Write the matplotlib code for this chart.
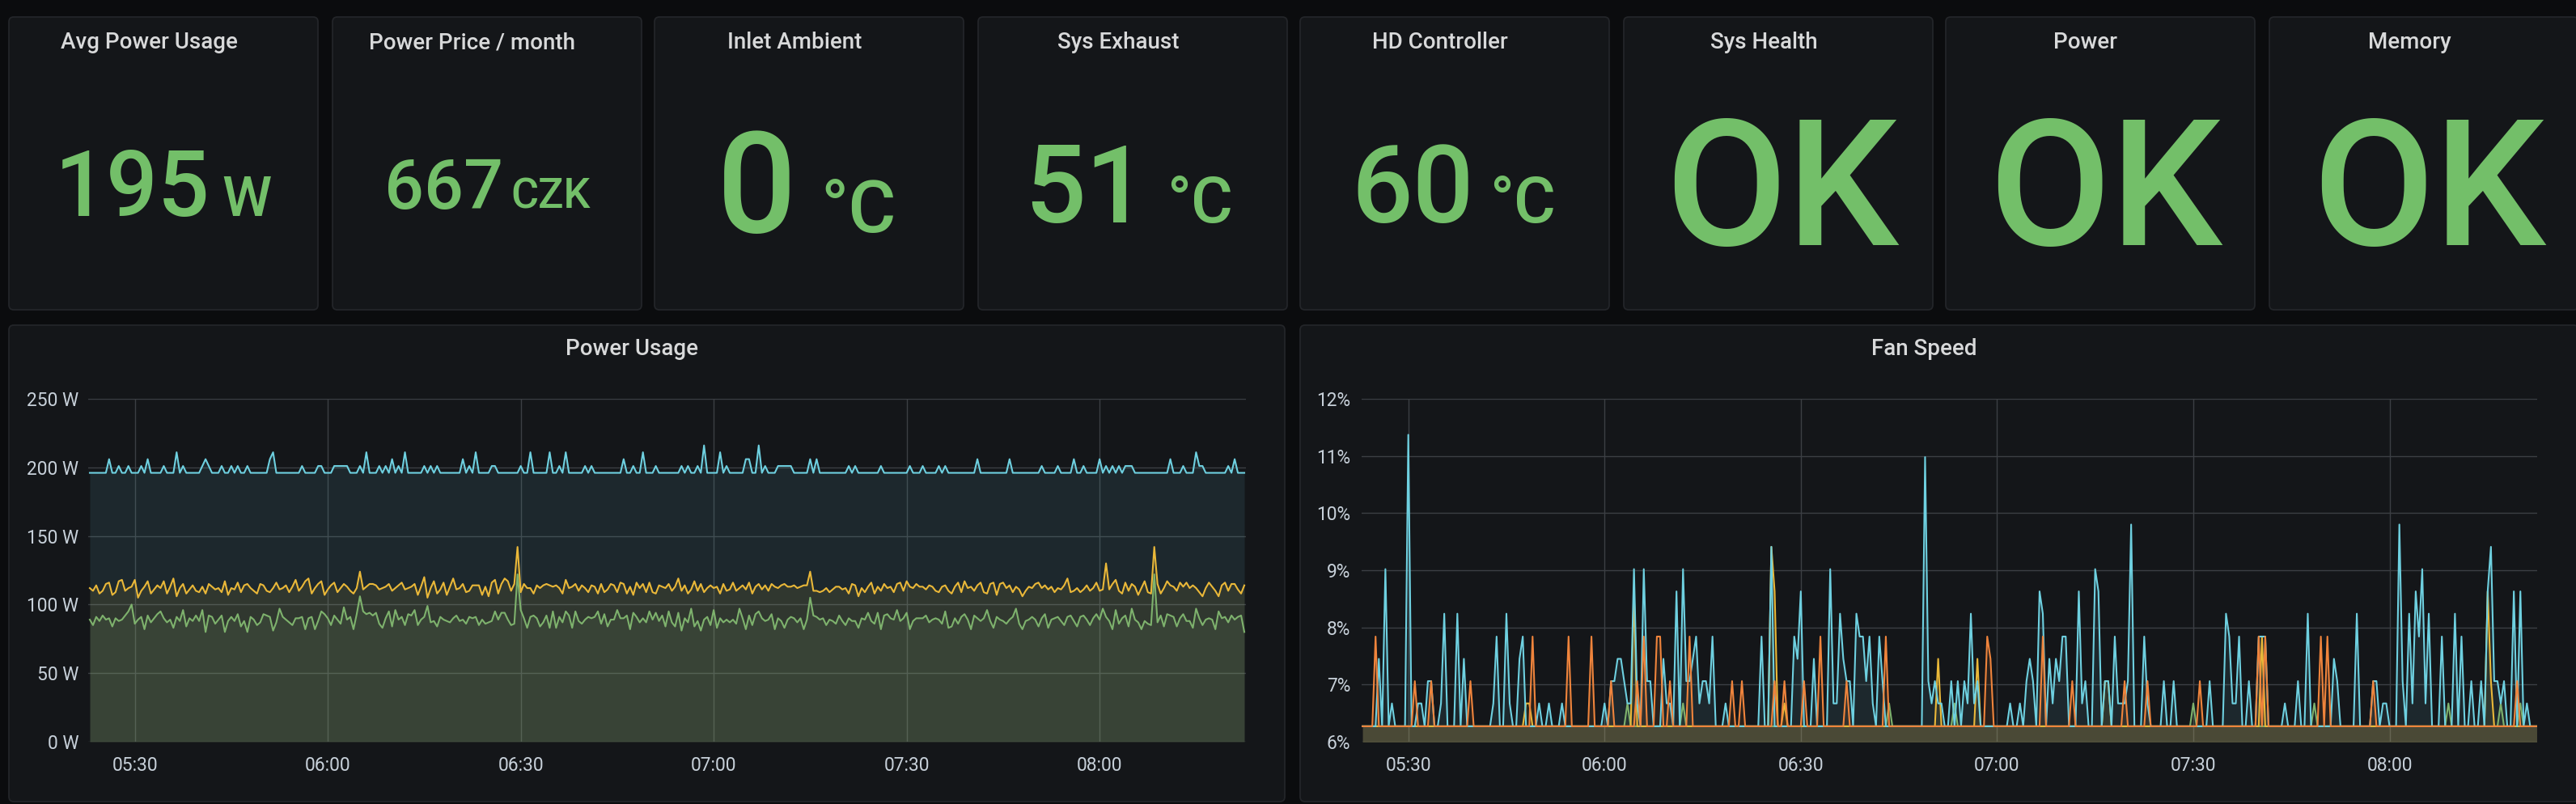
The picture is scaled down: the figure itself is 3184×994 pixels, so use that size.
import matplotlib
matplotlib.use("Agg")
import matplotlib.pyplot as plt
import matplotlib.dates as mdates
from matplotlib.patches import FancyBboxPatch
from matplotlib.ticker import FuncFormatter, MultipleLocator
import pandas as pd

plt.rcParams['font.family'] = ['Roboto', 'DejaVu Sans']

W, H = 3184, 994
BG = '#0b0c0e'
PANEL = '#141619'
EDGE = '#232529'
TITLE = '#d8d9da'
TICK = '#c7d0d9'
GRID = '#3c3f44'
VALUE = '#73bf69'
GREEN, YELLOW, CYAN, ORANGE = '#7eb26d', '#eab839', '#6ed0e0', '#ef843c'

# ---- stat panels ----
stat_titles = ['Avg Power Usage', 'Power Price / month', 'Inlet Ambient', 'Sys Exhaust',
               'HD Controller', 'Sys Health', 'Power', 'Memory']
stat_values = ['195', '667', '0', '51', '60', 'OK', 'OK', 'OK']
stat_units = ['W', 'CZK', '°C', '°C', '°C', '', '', '']

# ---- time series (one sample every 30 s) ----
times = pd.date_range('2021-05-01 05:23:00', periods=360, freq='30s')

power_psu1 = [
    89, 85, 91, 88, 92, 89, 90, 84, 90, 88, 89, 92, 95, 100, 86, 89, 91, 82, 92, 87,
    90, 93, 95, 90, 87, 89, 83, 91, 88, 96, 84, 90, 88, 92, 88, 96, 80, 92, 91, 86,
    89, 92, 80, 88, 91, 88, 93, 84, 88, 80, 91, 89, 85, 87, 93, 92, 91, 81, 87, 97,
    91, 89, 87, 85, 90, 90, 91, 82, 90, 91, 82, 88, 95, 93, 90, 85, 92, 89, 86, 98,
    89, 91, 82, 93, 106, 95, 93, 94, 92, 94, 86, 83, 90, 95, 84, 96, 89, 91, 85, 93,
    92, 96, 85, 89, 91, 99, 87, 88, 84, 91, 89, 88, 87, 90, 92, 88, 89, 86, 91, 90,
    91, 85, 89, 86, 87, 88, 95, 89, 94, 94, 89, 85, 86, 122, 96, 90, 83, 91, 92, 90,
    84, 87, 92, 83, 95, 83, 91, 87, 95, 92, 83, 95, 88, 86, 89, 91, 90, 91, 95, 86,
    93, 84, 89, 89, 96, 90, 90, 92, 82, 94, 91, 87, 90, 87, 95, 89, 94, 88, 92, 84,
    95, 87, 84, 94, 81, 90, 87, 97, 84, 88, 81, 89, 91, 85, 96, 83, 90, 87, 89, 87,
    89, 86, 97, 90, 82, 92, 85, 93, 95, 90, 88, 89, 93, 82, 90, 88, 83, 89, 91, 90,
    87, 90, 82, 89, 105, 92, 91, 89, 90, 85, 89, 88, 86, 92, 88, 85, 90, 88, 88, 83,
    90, 89, 94, 88, 86, 94, 82, 92, 93, 90, 89, 96, 88, 90, 94, 82, 88, 90, 90, 90,
    92, 87, 89, 90, 89, 86, 95, 83, 84, 90, 86, 91, 93, 89, 82, 92, 90, 88, 90, 96,
    88, 83, 91, 89, 88, 86, 89, 91, 97, 86, 82, 88, 89, 91, 89, 84, 90, 93, 83, 89,
    90, 91, 88, 85, 91, 92, 88, 84, 91, 92, 89, 85, 90, 93, 89, 97, 91, 88, 82, 96,
    86, 90, 92, 84, 97, 89, 87, 82, 88, 86, 85, 122, 87, 92, 84, 93, 92, 91, 84, 90,
    93, 88, 88, 83, 97, 90, 85, 89, 90, 89, 82, 95, 90, 91, 87, 92, 89, 91, 92, 80,
]
power_psu2 = [
    112, 110, 114, 108, 110, 115, 116, 107, 109, 117, 118, 110, 112, 113, 118, 105, 110, 113, 117, 108,
    111, 114, 112, 117, 108, 113, 119, 106, 112, 115, 108, 111, 114, 110, 109, 113, 108, 115, 113, 111,
    112, 109, 117, 107, 112, 111, 116, 109, 114, 115, 112, 110, 108, 115, 114, 110, 109, 112, 116, 111,
    112, 114, 109, 113, 118, 110, 113, 117, 119, 108, 112, 115, 117, 107, 111, 114, 116, 109, 112, 115,
    113, 110, 108, 112, 124, 111, 113, 115, 115, 114, 111, 112, 113, 115, 110, 112, 114, 116, 111, 112,
    113, 115, 107, 113, 120, 105, 112, 117, 108, 111, 116, 107, 113, 119, 111, 112, 115, 109, 110, 114,
    114, 114, 107, 113, 106, 116, 118, 108, 115, 119, 117, 110, 115, 142, 109, 115, 112, 112, 108, 114,
    112, 114, 115, 114, 113, 114, 112, 108, 118, 112, 113, 115, 110, 114, 112, 109, 114, 113, 108, 115,
    109, 111, 115, 114, 109, 116, 115, 108, 113, 107, 116, 112, 115, 109, 116, 109, 108, 114, 113, 112,
    115, 110, 113, 119, 110, 114, 108, 111, 117, 110, 115, 109, 112, 114, 112, 113, 108, 115, 110, 111,
    116, 110, 112, 114, 111, 116, 108, 113, 115, 111, 114, 110, 115, 113, 112, 114, 115, 113, 113, 114,
    112, 113, 114, 114, 124, 110, 110, 109, 110, 112, 109, 111, 113, 113, 111, 112, 108, 115, 114, 106,
    112, 109, 113, 116, 108, 113, 110, 115, 112, 113, 109, 115, 116, 110, 117, 113, 112, 115, 113, 113,
    111, 114, 113, 110, 109, 113, 114, 110, 108, 113, 116, 109, 117, 112, 113, 110, 114, 116, 109, 108,
    115, 116, 107, 115, 116, 112, 114, 109, 113, 111, 106, 110, 113, 112, 115, 116, 112, 114, 111, 113,
    109, 112, 111, 114, 119, 109, 110, 112, 109, 111, 114, 110, 112, 116, 110, 111, 130, 111, 115, 118,
    110, 108, 116, 110, 115, 113, 107, 112, 117, 109, 108, 142, 115, 108, 112, 117, 114, 113, 110, 116,
    113, 116, 112, 114, 112, 109, 106, 112, 116, 113, 110, 106, 114, 116, 110, 115, 115, 111, 108, 114,
]
power_total = [
    196, 196, 196, 196, 196, 196, 206, 196, 196, 201, 196, 196, 201, 196, 196, 196, 201, 196, 206, 196,
    196, 196, 196, 201, 196, 196, 196, 211, 196, 201, 196, 196, 196, 196, 196, 201, 206, 201, 196, 196,
    196, 201, 196, 196, 201, 196, 201, 196, 196, 201, 196, 196, 196, 196, 196, 196, 206, 211, 196, 196,
    196, 196, 196, 196, 196, 196, 201, 196, 196, 196, 196, 201, 201, 196, 196, 196, 201, 201, 201, 201,
    201, 196, 196, 196, 201, 196, 211, 196, 196, 196, 201, 196, 201, 196, 206, 196, 201, 196, 211, 196,
    196, 196, 196, 196, 201, 196, 201, 196, 201, 196, 196, 196, 196, 196, 196, 196, 206, 196, 201, 196,
    211, 196, 196, 196, 196, 201, 201, 196, 196, 196, 196, 196, 196, 196, 201, 196, 196, 211, 196, 196,
    196, 196, 196, 211, 196, 196, 201, 196, 211, 196, 196, 196, 196, 196, 201, 196, 201, 196, 196, 196,
    196, 196, 196, 196, 196, 196, 206, 196, 196, 201, 196, 196, 211, 196, 196, 196, 201, 196, 196, 196,
    196, 196, 196, 196, 201, 196, 201, 196, 196, 201, 196, 216, 196, 196, 196, 196, 211, 196, 201, 196,
    196, 196, 196, 196, 206, 206, 196, 196, 216, 196, 201, 196, 196, 196, 201, 201, 201, 201, 201, 196,
    196, 196, 196, 196, 206, 196, 206, 196, 196, 196, 196, 196, 196, 196, 196, 196, 201, 196, 201, 196,
    196, 196, 196, 196, 196, 196, 201, 196, 196, 196, 196, 196, 196, 196, 196, 201, 196, 196, 196, 201,
    196, 196, 196, 196, 201, 196, 201, 196, 196, 196, 196, 196, 196, 196, 196, 196, 206, 196, 196, 196,
    196, 196, 196, 196, 196, 196, 206, 196, 196, 196, 196, 196, 196, 196, 196, 196, 201, 196, 196, 196,
    196, 201, 196, 196, 196, 196, 206, 196, 196, 201, 196, 196, 196, 196, 206, 196, 201, 196, 201, 196,
    201, 196, 201, 201, 201, 196, 196, 196, 196, 196, 196, 196, 196, 196, 196, 196, 206, 196, 196, 196,
    201, 196, 196, 196, 211, 201, 201, 196, 196, 196, 196, 196, 196, 196, 201, 196, 206, 196, 196, 196,
]

fan_1 = [
    6.27, 6.27, 6.27, 6.27, 6.27, 6.27, 6.27, 6.27, 6.27, 6.27, 6.27, 6.27, 6.27, 6.27, 6.27, 6.27, 6.27, 6.27, 6.27, 6.27,
    6.27, 6.27, 6.27, 6.27, 6.27, 6.27, 6.27, 6.27, 6.27, 6.27, 6.27, 6.27, 6.27, 6.27, 6.27, 6.27, 6.27, 6.27, 6.27, 6.27,
    6.27, 6.27, 6.27, 6.27, 6.27, 6.27, 6.27, 6.27, 6.27, 6.27, 6.27, 6.27, 6.27, 6.27, 6.27, 6.27, 6.27, 6.27, 6.27, 6.27,
    6.27, 6.27, 6.27, 6.27, 6.27, 6.27, 6.27, 6.27, 6.27, 6.27, 6.27, 6.27, 6.27, 6.27, 6.27, 6.27, 6.27, 6.27, 6.27, 6.27,
    6.27, 6.67, 6.27, 6.27, 6.27, 6.27, 6.27, 6.27, 6.27, 6.27, 6.27, 6.27, 6.27, 6.27, 6.27, 6.27, 6.27, 6.27, 6.67, 6.27,
    6.27, 6.27, 6.27, 6.27, 6.27, 6.27, 6.27, 6.27, 6.27, 6.27, 6.27, 6.27, 6.27, 6.27, 6.27, 6.27, 6.27, 6.27, 6.27, 6.27,
    6.27, 6.27, 6.27, 6.27, 6.27, 6.27, 6.27, 6.27, 6.27, 6.27, 6.27, 6.27, 6.27, 6.27, 6.27, 6.27, 6.27, 6.27, 6.27, 6.27,
    6.27, 6.27, 6.27, 6.27, 6.27, 6.27, 6.27, 6.27, 6.27, 6.27, 6.27, 6.27, 6.27, 6.27, 6.27, 6.27, 6.27, 6.27, 6.27, 6.27,
    6.27, 6.67, 6.27, 6.27, 6.27, 6.27, 6.27, 6.27, 6.27, 6.27, 6.27, 6.27, 6.27, 6.27, 6.27, 6.27, 6.27, 6.27, 6.27, 6.27,
    6.27, 6.67, 6.27, 6.27, 6.27, 6.27, 6.27, 6.27, 6.27, 6.27, 6.27, 6.27, 6.27, 6.27, 6.27, 6.27, 6.27, 6.27, 6.27, 6.27,
    6.27, 6.27, 6.27, 6.27, 6.27, 6.27, 6.27, 6.27, 6.27, 6.27, 6.27, 6.27, 6.27, 6.27, 6.27, 6.27, 6.27, 6.27, 6.27, 6.27,
    6.27, 6.27, 6.27, 6.27, 6.27, 6.27, 6.27, 6.27, 6.27, 6.27, 6.27, 6.27, 6.27, 6.27, 6.27, 6.27, 6.27, 6.27, 6.27, 6.27,
    6.27, 6.27, 6.27, 6.27, 6.27, 6.27, 6.27, 6.27, 6.27, 6.27, 6.27, 6.27, 6.27, 6.27, 6.67, 6.27, 6.27, 6.27, 6.27, 6.27,
    6.27, 6.27, 6.27, 6.27, 6.27, 6.27, 6.27, 6.27, 6.27, 6.27, 6.27, 6.27, 6.27, 6.27, 6.27, 6.27, 6.27, 6.27, 6.27, 6.27,
    6.27, 6.27, 6.27, 6.27, 6.27, 6.27, 6.27, 6.27, 6.27, 6.27, 6.27, 6.67, 6.27, 6.27, 6.27, 6.27, 6.27, 6.27, 6.27, 6.27,
    6.27, 6.27, 6.27, 6.27, 6.27, 6.27, 6.27, 6.27, 6.27, 6.27, 6.27, 6.27, 6.27, 6.27, 6.27, 6.27, 6.27, 6.27, 6.27, 6.27,
    6.27, 6.27, 6.27, 6.27, 6.27, 6.27, 6.27, 6.27, 6.27, 6.27, 6.27, 6.27, 6.67, 6.27, 6.27, 6.27, 6.27, 6.27, 6.27, 6.27,
    6.27, 6.27, 6.27, 6.27, 6.27, 6.27, 6.27, 6.27, 6.67, 6.27, 6.27, 6.27, 6.27, 6.27, 6.67, 6.27, 6.27, 6.27, 6.27, 6.27,
]
fan_2 = [
    6.27, 6.27, 6.27, 6.27, 6.27, 6.27, 6.27, 6.27, 6.27, 6.27, 6.27, 6.27, 6.27, 6.27, 6.27, 6.27, 6.27, 6.27, 6.27, 6.27,
    6.27, 6.27, 6.27, 6.27, 6.27, 6.27, 6.27, 6.27, 6.27, 6.27, 6.27, 6.27, 6.27, 6.27, 6.27, 6.27, 6.27, 6.27, 6.27, 6.27,
    6.27, 6.27, 6.27, 6.27, 6.27, 6.27, 6.27, 6.27, 6.27, 6.27, 6.67, 6.67, 6.27, 6.27, 6.27, 6.27, 6.27, 6.27, 6.27, 6.27,
    6.27, 6.27, 6.27, 6.27, 6.27, 6.27, 6.27, 6.27, 6.27, 6.27, 6.27, 6.27, 6.27, 6.27, 6.27, 6.27, 6.27, 6.27, 6.27, 6.27,
    6.27, 6.27, 6.27, 8.63, 6.27, 6.27, 6.27, 6.27, 6.27, 6.27, 6.27, 6.27, 6.27, 6.27, 6.27, 6.27, 6.27, 6.27, 6.27, 6.27,
    6.27, 6.27, 6.27, 6.27, 6.27, 6.27, 6.27, 6.27, 6.27, 6.27, 6.27, 6.27, 6.27, 6.27, 6.27, 6.27, 6.27, 6.27, 6.27, 6.27,
    6.27, 6.27, 6.27, 6.27, 6.27, 9.41, 8.63, 6.27, 6.27, 6.67, 6.27, 6.27, 6.27, 6.27, 6.27, 6.27, 6.27, 6.27, 6.27, 6.27,
    6.27, 6.27, 6.27, 6.27, 6.27, 6.27, 6.27, 6.27, 6.27, 6.27, 6.27, 6.27, 6.27, 6.27, 6.27, 6.27, 6.27, 6.27, 6.27, 6.27,
    6.27, 6.27, 6.27, 6.27, 6.27, 6.27, 6.27, 6.27, 6.27, 6.27, 6.27, 6.27, 6.27, 6.27, 6.27, 6.27, 7.45, 6.27, 6.27, 6.27,
    6.27, 6.27, 6.27, 6.27, 6.27, 6.27, 6.27, 6.27, 7.45, 6.27, 6.27, 6.27, 6.27, 6.27, 6.27, 6.27, 6.27, 6.27, 6.27, 6.27,
    6.27, 6.27, 6.27, 6.27, 6.27, 6.27, 6.27, 6.27, 6.27, 6.27, 6.27, 6.27, 6.27, 6.27, 6.27, 6.27, 6.27, 6.27, 6.27, 6.27,
    6.27, 6.27, 6.27, 6.27, 6.27, 6.27, 6.27, 7.06, 7.06, 6.27, 6.27, 6.27, 6.27, 6.27, 6.27, 6.27, 6.27, 6.27, 6.27, 6.27,
    6.27, 6.27, 6.27, 6.27, 6.27, 6.27, 6.27, 6.27, 6.27, 6.27, 6.27, 6.27, 6.27, 6.27, 6.27, 6.27, 6.27, 6.27, 6.27, 6.27,
    6.27, 6.27, 6.27, 6.27, 6.27, 6.27, 6.27, 6.27, 6.27, 6.27, 6.27, 6.27, 6.27, 6.27, 6.27, 7.84, 6.27, 6.27, 6.27, 6.27,
    6.27, 6.27, 6.27, 6.27, 6.27, 6.27, 6.27, 6.27, 6.27, 6.27, 6.27, 6.27, 6.27, 6.27, 6.27, 6.27, 6.27, 6.27, 6.27, 6.27,
    6.27, 6.27, 6.27, 6.27, 6.27, 6.27, 6.27, 6.27, 6.27, 6.27, 6.27, 6.27, 6.27, 6.27, 6.27, 6.27, 6.27, 6.27, 6.27, 6.27,
    6.27, 6.27, 6.27, 6.27, 6.27, 6.27, 6.27, 6.27, 6.27, 6.27, 6.27, 6.27, 6.27, 6.27, 6.27, 6.27, 6.27, 6.27, 6.27, 6.27,
    6.27, 6.27, 6.27, 6.27, 8.63, 7.06, 6.27, 6.27, 6.27, 6.27, 6.27, 6.27, 6.27, 6.27, 6.27, 6.27, 6.27, 6.27, 6.27, 6.27,
]
fan_3 = [
    6.27, 6.27, 6.27, 6.27, 6.27, 7.45, 6.27, 9.02, 6.27, 6.67, 6.27, 6.27, 6.27, 6.27, 11.37, 6.27, 6.27, 6.67, 6.67, 6.27,
    7.06, 7.06, 6.27, 6.27, 6.67, 8.24, 6.27, 6.27, 6.27, 8.24, 6.27, 7.45, 6.27, 6.27, 6.27, 6.27, 6.27, 6.27, 6.27, 6.27,
    6.67, 7.84, 6.27, 6.27, 8.24, 6.67, 6.27, 6.27, 7.45, 7.84, 6.27, 6.27, 6.27, 6.27, 6.67, 6.27, 6.27, 6.67, 6.27, 6.27,
    6.27, 6.67, 6.27, 6.27, 6.27, 6.27, 6.27, 6.27, 6.27, 6.27, 6.27, 6.27, 6.27, 6.27, 6.67, 6.27, 7.06, 7.06, 7.45, 7.45,
    7.06, 6.67, 6.67, 9.02, 6.67, 6.27, 9.02, 7.06, 7.06, 6.27, 6.27, 6.27, 7.45, 6.67, 6.67, 6.27, 8.63, 6.27, 9.02, 7.06,
    7.06, 7.45, 7.84, 6.67, 7.06, 7.06, 6.67, 7.84, 6.27, 6.27, 6.27, 6.67, 6.27, 6.27, 6.27, 6.27, 6.27, 6.27, 6.27, 6.27,
    6.27, 6.27, 7.84, 6.27, 6.27, 9.41, 6.27, 6.27, 6.27, 6.27, 6.27, 6.27, 7.84, 7.45, 8.63, 6.27, 6.27, 6.27, 7.45, 6.27,
    6.27, 6.27, 6.27, 9.02, 6.67, 6.67, 8.24, 7.45, 7.06, 7.06, 6.27, 8.24, 7.84, 7.84, 7.06, 7.84, 6.67, 6.27, 7.84, 7.06,
    6.27, 6.27, 6.27, 6.27, 6.27, 6.27, 6.27, 6.27, 6.27, 6.27, 6.27, 6.27, 10.98, 7.06, 6.67, 7.06, 6.67, 6.67, 6.27, 6.27,
    7.06, 6.27, 7.06, 6.27, 7.06, 6.67, 8.24, 6.67, 7.06, 6.27, 6.27, 6.27, 6.27, 6.27, 6.27, 6.27, 6.27, 6.27, 6.67, 6.27,
    6.27, 6.67, 6.27, 7.06, 7.45, 7.06, 6.27, 8.63, 8.24, 6.27, 7.45, 6.67, 7.45, 7.06, 7.84, 7.84, 6.27, 6.27, 6.27, 8.63,
    6.67, 7.06, 6.27, 6.27, 9.02, 8.63, 6.27, 7.06, 7.06, 6.27, 7.84, 6.67, 6.67, 6.67, 7.06, 9.80, 6.27, 6.27, 6.27, 7.84,
    6.67, 6.27, 6.27, 6.27, 6.27, 7.06, 6.27, 6.27, 7.06, 6.27, 6.27, 6.27, 6.27, 6.27, 6.27, 6.27, 6.27, 6.27, 6.27, 7.06,
    6.27, 6.27, 6.27, 6.27, 8.24, 7.84, 6.67, 6.67, 7.84, 6.27, 6.27, 7.06, 6.27, 6.27, 7.84, 7.84, 7.84, 6.27, 6.27, 6.27,
    6.27, 6.27, 6.67, 6.27, 6.27, 6.27, 7.06, 6.27, 6.27, 8.24, 6.27, 6.27, 6.27, 6.27, 6.27, 6.27, 6.27, 7.45, 7.06, 6.27,
    6.27, 6.27, 6.27, 6.27, 8.24, 6.27, 6.27, 6.27, 6.27, 7.06, 7.06, 6.27, 6.67, 6.67, 6.27, 6.27, 6.27, 9.80, 7.06, 6.27,
    8.24, 6.67, 8.63, 7.84, 9.02, 6.67, 8.24, 6.27, 6.27, 6.27, 7.84, 6.27, 6.27, 6.27, 8.24, 6.27, 7.84, 6.27, 6.27, 7.06,
    6.27, 6.27, 7.06, 6.27, 8.63, 9.41, 7.06, 7.06, 6.67, 7.06, 6.27, 6.27, 8.63, 6.27, 8.63, 6.27, 6.67, 6.27, 6.27, 6.27,
]
fan_4 = [
    6.27, 6.27, 6.27, 6.27, 7.84, 6.27, 6.27, 6.27, 6.27, 6.27, 6.27, 6.27, 6.27, 6.27, 6.27, 6.27, 7.06, 6.27, 6.27, 6.27,
    6.27, 7.06, 6.27, 6.27, 6.27, 6.27, 6.27, 6.27, 6.27, 6.27, 6.27, 6.27, 6.27, 7.06, 6.27, 6.27, 6.27, 6.27, 6.27, 6.27,
    6.27, 6.27, 6.27, 6.27, 6.27, 6.27, 6.27, 6.27, 6.27, 6.27, 6.27, 6.27, 7.84, 6.27, 6.27, 6.27, 6.27, 6.27, 6.27, 6.27,
    6.27, 6.27, 6.27, 7.84, 6.27, 6.27, 6.27, 6.27, 6.27, 6.27, 7.84, 6.27, 6.27, 6.27, 6.27, 6.27, 7.06, 6.27, 6.27, 6.27,
    6.27, 6.27, 6.27, 6.27, 7.06, 6.27, 7.84, 6.27, 6.27, 6.27, 7.84, 7.84, 6.27, 6.27, 7.06, 6.27, 6.27, 6.27, 6.27, 6.27,
    7.84, 6.27, 6.27, 6.27, 6.27, 6.27, 6.27, 6.27, 6.27, 6.27, 6.27, 6.27, 6.27, 7.06, 6.27, 6.27, 7.06, 6.27, 6.27, 6.27,
    6.27, 6.27, 6.27, 6.27, 6.27, 6.27, 7.06, 6.27, 6.27, 7.06, 6.27, 6.27, 6.27, 6.27, 6.27, 7.06, 6.27, 6.27, 6.27, 6.27,
    7.84, 6.27, 6.27, 6.27, 6.27, 6.27, 6.27, 6.27, 7.06, 6.27, 6.27, 6.27, 6.27, 6.27, 6.27, 6.27, 6.27, 6.27, 6.27, 6.27,
    7.84, 6.27, 6.27, 6.27, 6.27, 6.27, 6.27, 6.27, 6.27, 6.27, 6.27, 6.27, 6.27, 6.27, 6.27, 6.27, 6.27, 6.27, 6.27, 6.27,
    6.27, 6.27, 6.27, 6.27, 6.27, 6.27, 6.27, 6.27, 6.27, 6.27, 6.27, 7.84, 7.45, 6.27, 6.27, 6.27, 6.27, 6.27, 6.27, 6.27,
    6.27, 6.27, 6.27, 6.27, 6.27, 6.27, 6.27, 6.27, 7.84, 6.27, 6.27, 6.27, 6.27, 6.27, 6.27, 6.27, 6.27, 7.06, 6.27, 6.27,
    6.27, 6.27, 6.27, 6.27, 6.27, 6.27, 6.27, 6.27, 6.27, 6.27, 6.27, 6.27, 6.27, 7.06, 6.27, 6.27, 6.27, 6.27, 6.27, 6.27,
    7.06, 6.27, 6.27, 6.27, 6.27, 6.27, 6.27, 6.27, 6.27, 6.27, 6.27, 6.27, 6.27, 6.27, 6.27, 6.27, 7.06, 6.27, 6.27, 6.27,
    6.27, 6.27, 6.27, 6.27, 6.27, 6.27, 6.27, 6.27, 6.27, 6.27, 6.27, 6.27, 6.27, 6.27, 7.84, 6.27, 7.84, 6.27, 6.27, 6.27,
    6.27, 6.27, 6.27, 6.27, 6.27, 6.27, 6.27, 6.27, 6.27, 6.27, 6.27, 6.27, 6.27, 7.84, 6.27, 7.84, 6.27, 6.27, 6.27, 6.27,
    6.27, 6.27, 6.27, 6.27, 6.27, 6.27, 6.27, 6.27, 6.27, 7.06, 6.27, 6.27, 6.27, 6.27, 6.27, 6.27, 6.27, 6.27, 6.27, 6.27,
    6.27, 6.27, 6.27, 6.27, 6.27, 6.27, 6.27, 6.27, 6.27, 6.27, 6.27, 6.27, 6.27, 6.27, 6.27, 6.27, 6.27, 6.27, 6.27, 6.27,
    6.27, 6.27, 6.27, 6.27, 6.27, 6.27, 6.27, 6.27, 6.27, 6.27, 6.27, 6.27, 6.27, 7.06, 6.27, 6.27, 6.27, 6.27, 6.27, 6.27,
]

# ---- figure in pixel coordinates ----
fig = plt.figure(figsize=(W / 100, H / 100), dpi=100, facecolor=BG)
bg = fig.add_axes([0, 0, 1, 1])
bg.set_xlim(0, W)
bg.set_ylim(H, 0)
bg.axis('off')


def panel(x0, y0, x1, y1):
    bg.add_patch(FancyBboxPatch((x0, y0), x1 - x0, y1 - y0,
                                boxstyle='round,pad=0,rounding_size=6',
                                fc=PANEL, ec=EDGE, lw=1.3))


# stat panel row
stat_left = [11, 411, 809, 1209, 1607, 2007, 2405, 2805]
val_x = [164, 548, 935, 1342, 1746, 2202, 2602, 3002]
unit_x = [305, 680, 1061, 1483, 1882, 0, 0, 0]
val_y = [267, 258, 287, 275, 275, 303, 303, 303]
val_size = [81, 62, 125, 96, 96, 157, 157, 157]
unit_size = [50, 37.5, 65, 57, 57, 0, 0, 0]

for k in range(8):
    x0 = stat_left[k]
    panel(x0, 21, x0 + 382, 383)
    bg.text(x0 + 173, 60, stat_titles[k], color=TITLE, fontsize=20, fontweight=500,
            ha='center', va='baseline')
    bg.text(val_x[k], val_y[k], stat_values[k], color=VALUE, fontsize=val_size[k],
            fontweight=500, ha='center', va='baseline')
    if stat_units[k]:
        bg.text(unit_x[k], val_y[k], stat_units[k], color=VALUE, fontsize=unit_size[k],
                fontweight=500, ha='center', va='baseline')

# graph panels
panel(11, 402, 1588, 991)
panel(1607, 402, 3187, 991)
bg.text(781, 439, 'Power Usage', color=TITLE, fontsize=20, fontweight=500, ha='center', va='baseline')
bg.text(2378, 439, 'Fan Speed', color=TITLE, fontsize=20, fontweight=500, ha='center', va='baseline')


def chart(l, r, t, b, ypad):
    ax = fig.add_axes([l / W, 1 - b / H, (r - l) / W, (b - t) / H])
    ax.set_facecolor('none')
    for s in ax.spines.values():
        s.set_visible(False)
    ax.set_axisbelow(True)
    ax.grid(True, color=GRID, lw=1.0)
    ax.tick_params(length=0, labelsize=16.4, labelcolor=TICK)
    ax.tick_params(axis='y', pad=ypad)
    ax.tick_params(axis='x', pad=13)
    ax.xaxis.set_major_locator(mdates.MinuteLocator(byminute=[0, 30]))
    ax.xaxis.set_major_formatter(mdates.DateFormatter('%H:%M'))
    return ax


# Power Usage
ax1 = chart(109, 1540, 493, 917, 8.6)
for vals, col in [(power_psu1, GREEN), (power_psu2, YELLOW), (power_total, CYAN)]:
    ax1.fill_between(times, vals, 0, color=col, alpha=0.1, lw=0)
    ax1.plot(times, vals, color=col, lw=1.5)
ax1.set_ylim(0, 250)
ax1.yaxis.set_major_locator(MultipleLocator(50))
ax1.yaxis.set_major_formatter(FuncFormatter(lambda v, _: f'{v:.0f} W'))
ax1.set_xlim(pd.Timestamp('2021-05-01 05:22:45'), pd.Timestamp('2021-05-01 08:22:45'))

# Fan Speed
ax2 = chart(1683, 3136, 493, 917, 10)
for vals, col in [(fan_1, GREEN), (fan_2, YELLOW), (fan_3, CYAN), (fan_4, ORANGE)]:
    ax2.fill_between(times, vals, 0, color=col, alpha=0.1, lw=0)
    ax2.plot(times, vals, color=col, lw=1.5)
ax2.set_ylim(6, 12)
ax2.yaxis.set_major_locator(MultipleLocator(1))
ax2.yaxis.set_major_formatter(FuncFormatter(lambda v, _: f'{v:.0f}%'))
ax2.set_xlim(pd.Timestamp('2021-05-01 05:22:52'), pd.Timestamp('2021-05-01 08:22:34'))

fig.savefig('out.png', dpi=100, facecolor=BG)
